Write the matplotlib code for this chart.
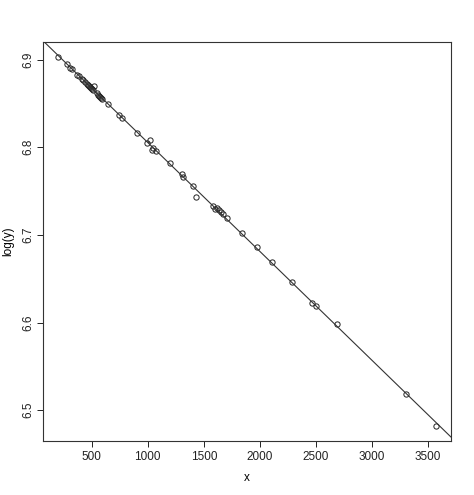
import numpy as np
import matplotlib
matplotlib.use("Agg")
import matplotlib.pyplot as plt

# values (x vs log(y))
x = [200, 279, 308, 323, 373, 390, 415, 425, 442, 455, 469, 478, 487, 495,
     505, 513, 520, 545, 558, 566, 576, 585, 594, 647, 745, 772, 908, 995,
     1021, 1039, 1048, 1075, 1200, 1304, 1318, 1399, 1431, 1585, 1601, 1621,
     1639, 1652, 1669, 1705, 1839, 1973, 2106, 2284, 2462, 2501, 2685, 3303,
     3570]
log_y = [6.9031, 6.8945, 6.8909, 6.8891, 6.8829, 6.8808, 6.8777, 6.8765,
         6.8744, 6.8727, 6.8710, 6.8699, 6.8688, 6.8678, 6.8665, 6.8656,
         6.8695, 6.8616, 6.8600, 6.8590, 6.8577, 6.8566, 6.8555, 6.8490,
         6.8368, 6.8335, 6.8166, 6.8045, 6.8086, 6.7970, 6.7993, 6.7959,
         6.7815, 6.7690, 6.7662, 6.7560, 6.7438, 6.7328, 6.7299, 6.7305,
         6.7280, 6.7260, 6.7240, 6.7191, 6.7019, 6.6866, 6.6688, 6.6466,
         6.6226, 6.6188, 6.5983, 6.5190, 6.4817]
x_ticks = [500, 1000, 1500, 2000, 2500, 3000, 3500]
y_ticks = [6.5, 6.6, 6.7, 6.8, 6.9]

plt.rcParams['font.family'] = ['Liberation Sans', 'DejaVu Sans']

x = np.array(x, dtype=float)
log_y = np.array(log_y)

fig = plt.figure(figsize=(4.74, 4.95), dpi=100)
ax = fig.add_axes([0.0907, 0.109, 0.8608, 0.806])

ax.plot(x, log_y, 'o', markersize=3.8, markerfacecolor='none',
        markeredgecolor='#222222', markeredgewidth=0.7)

# least squares line (abline(lm(log(y) ~ x)))
slope, intercept = np.polyfit(x, log_y, 1)
ax.axline((0, intercept), slope=slope, color='#333333', linewidth=0.8)

# R style 4% padding
xr = x.max() - x.min()
yr = log_y.max() - log_y.min()
ax.set_xlim(x.min() - 0.04 * xr, x.max() + 0.04 * xr)
ax.set_ylim(log_y.min() - 0.04 * yr, log_y.max() + 0.04 * yr)

ax.set_xticks(x_ticks)
ax.set_xticklabels([str(t) for t in x_ticks])
ax.set_yticks(y_ticks)
ax.set_yticklabels([f'{t:.1f}' for t in y_ticks], rotation=90, va='center')
ax.tick_params(direction='out', length=4, width=0.7, pad=3,
               labelsize=8.5, colors='#222222')
ax.tick_params(axis='y', pad=2.5)
for s in ax.spines.values():
    s.set_linewidth(0.8)
    s.set_color('#333333')

ax.set_xlabel('x', fontsize=8.5, va='center')
ax.set_ylabel('log(y)', fontsize=8.5, va='center')
ax.xaxis.set_label_coords(0.5, -0.093)
ax.yaxis.set_label_coords(-0.085, 0.5)

fig.savefig('out.png', dpi=100)
